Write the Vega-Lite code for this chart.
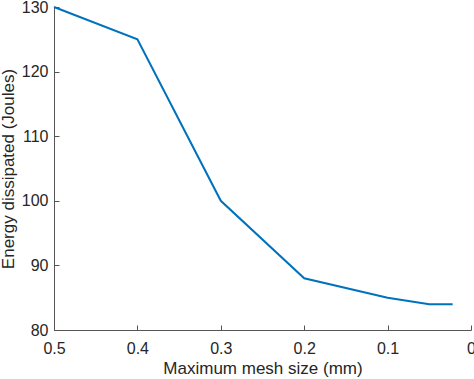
{
  "$schema": "https://vega.github.io/schema/vega-lite/v6.json",
  "width": 417,
  "height": 323,
  "autosize": {"type": "none"},
  "padding": {"left": 54, "top": 7, "right": 3, "bottom": 49},
  "background": "white",
  "config": {"view": {"stroke": null}, "font": "Liberation Sans"},
  "data": {"values": [
    {"size": 0.5, "energy": 130},
    {"size": 0.4, "energy": 125},
    {"size": 0.3, "energy": 100},
    {"size": 0.2, "energy": 88},
    {"size": 0.1, "energy": 85},
    {"size": 0.05, "energy": 84},
    {"size": 0.022, "energy": 84}
  ]},
  "mark": {"type": "line", "color": "#0072BD", "strokeWidth": 2},
  "encoding": {
    "x": {
      "field": "size", "type": "quantitative",
      "scale": {"domain": [0, 0.5], "reverse": true, "nice": false, "zero": false},
      "axis": {
        "values": [0.5, 0.4, 0.3, 0.2, 0.1, 0], "format": "~g",
        "title": "Maximum mesh size (mm)", "grid": false,
        "tickSize": -5, "labelPadding": 15, "titlePadding": 4,
        "domainColor": "#555555", "tickColor": "#555555",
        "labelColor": "#262626", "titleColor": "#262626",
        "labelFontSize": 16, "titleFontSize": 17, "titleFontWeight": "normal",
        "labelFlush": false
      }
    },
    "y": {
      "field": "energy", "type": "quantitative",
      "scale": {"domain": [80, 130], "nice": false, "zero": false},
      "axis": {
        "values": [80, 90, 100, 110, 120, 130],
        "title": "Energy dissipated (Joules)", "grid": false,
        "tickSize": -5, "labelPadding": 11, "titlePadding": 4,
        "domainColor": "#555555", "tickColor": "#555555",
        "labelColor": "#262626", "titleColor": "#262626",
        "labelFontSize": 16, "titleFontSize": 17, "titleFontWeight": "normal",
        "labelFlush": false
      }
    }
  }
}
